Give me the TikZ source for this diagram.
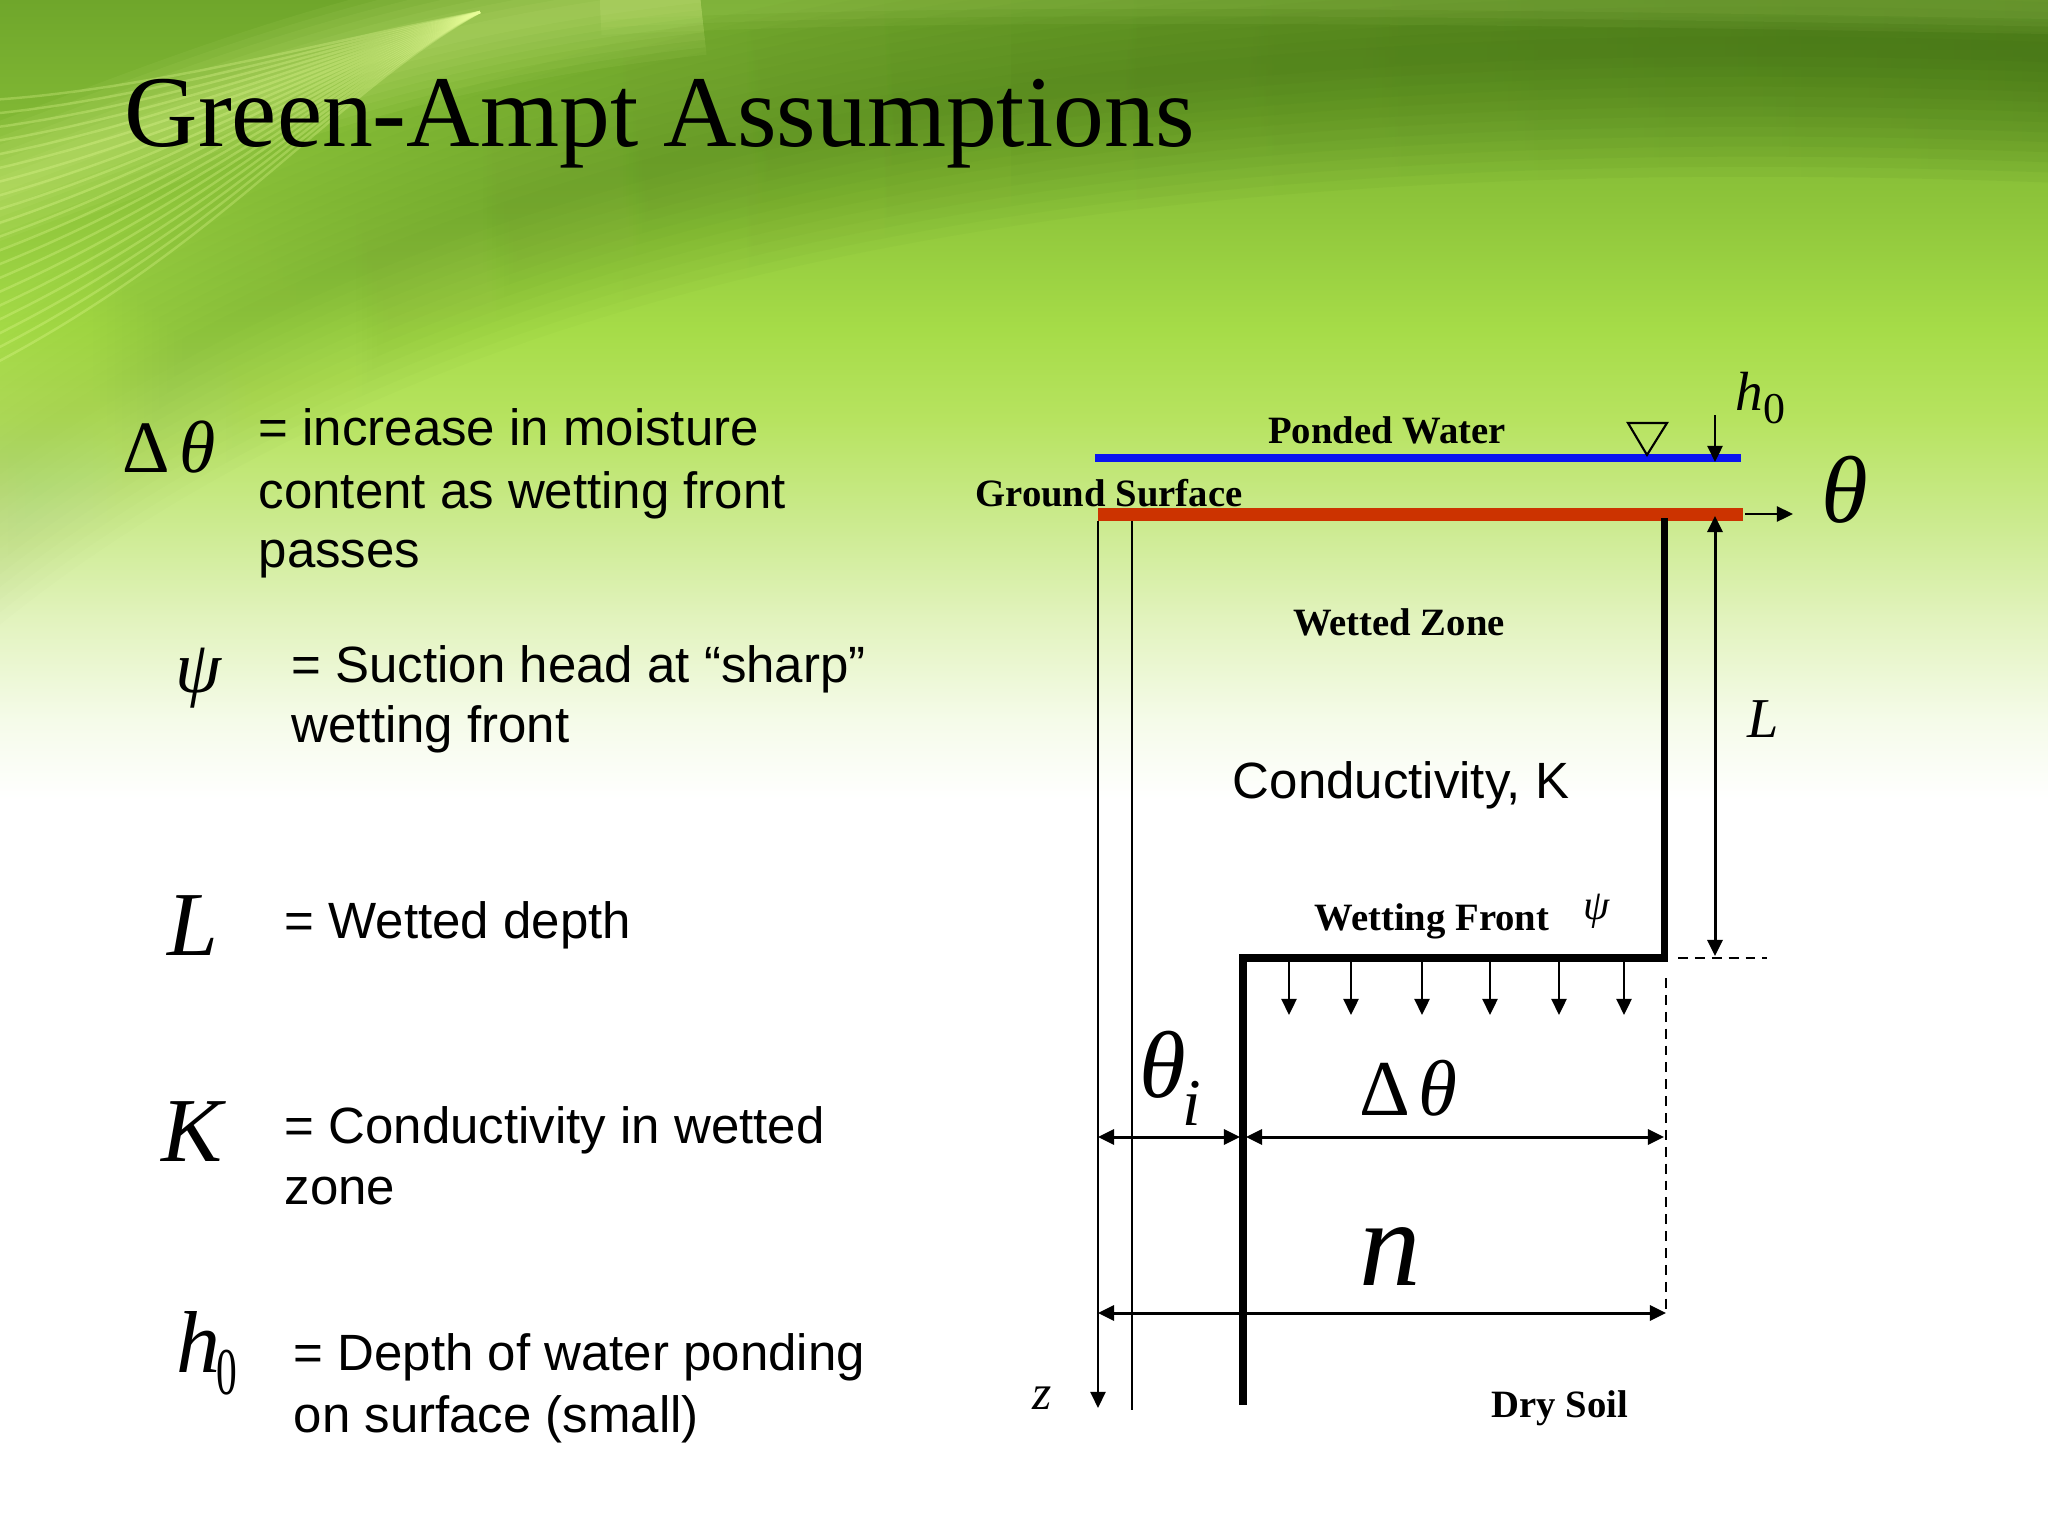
\documentclass[tikz,border=0pt]{standalone}
\usepackage{fontspec}
\setmainfont{Liberation Serif}
\setsansfont{Liberation Sans}
\usetikzlibrary{arrows.meta,fadings}
\definecolor{bg0}{HTML}{6FA62B}
\definecolor{bg1}{HTML}{8DC43A}
\definecolor{bg2}{HTML}{A6DC48}
\definecolor{bg3}{HTML}{B7E360}
\definecolor{bg4}{HTML}{CDEB92}
\definecolor{bg5}{HTML}{E2F3BE}
\definecolor{bg6}{HTML}{F5FBE9}
\definecolor{darkg}{HTML}{34600E}
\definecolor{glow}{HTML}{EAFF9A}
\definecolor{soilred}{HTML}{CC3300}
\definecolor{pondblue}{HTML}{0A14F0}
\pgfdeclareverticalshading{bgshade}{100bp}{color(0bp)=(white); color(25bp)=(white); color(30bp)=(bg6); color(36.25bp)=(bg5); color(41.9bp)=(bg4); color(48.75bp)=(bg3); color(54.4bp)=(bg2); color(62.5bp)=(bg1); color(75bp)=(bg0); color(100bp)=(bg0)}
\tikzset{
  ttl/.style={font=\fontsize{28.9}{34}\selectfont, anchor=base west, inner sep=0},
  arl/.style={font=\sffamily\fontsize{14.5}{17}\selectfont, anchor=base west, inner sep=0},
  lbl/.style={font=\bfseries\fontsize{11}{13}\selectfont, anchor=base, inner sep=0},
  sym/.style={inner sep=0, anchor=base},
  thinln/.style={line width=0.6pt, black},
  thickln/.style={line width=2pt, black},
  arr/.style={line width=0.7pt, -{Triangle[length=4.6pt,width=4.3pt]}},
  dbl/.style={line width=0.85pt, {Triangle[length=4.6pt,width=4.3pt]}-{Triangle[length=4.6pt,width=4.3pt]}},
  dsh/.style={line width=0.6pt, dash pattern=on 2.8pt off 2pt},
}
\begin{document}
\begin{tikzpicture}[x=0.01cm,y=-0.01cm]
\useasboundingbox (0,0) rectangle (2048,1536);
% background
\fill[white] (0,0) rectangle (2048,1536);
\shade[shading=bgshade] (0,0) rectangle (2048,800);
\begin{scope}
\clip (0,0) rectangle (2048,800);
% dark swoosh, fading out to the left
\foreach \w in {260,240,...,20}{
  \draw[darkg, line width=\w*0.2845pt, opacity=0.075, path fading=west]
    (-100,540) .. controls (450,80) and (1300,20) .. (2120,55);
}
% bright glow
\foreach \w in {120,105,...,15}{
  \draw[glow, line width=\w*0.2845pt, opacity=0.06]
    (-40,200) .. controls (200,110) and (380,30) .. (700,-5);
}
\foreach \w in {60,45,30}{
  \draw[glow, line width=\w*0.2845pt, opacity=0.05]
    (600,5) .. controls (900,-10) and (1300,-10) .. (2100,5);
}
% light streaks
\foreach \d in {0,1,...,19}{
  \draw[glow, line width=0.7pt, opacity=0.28]
    (-10,{100+\d*14}) .. controls ({150+\d*4},{90+\d*8}) and ({330},{40+\d*3}) .. (480,12);
}
\end{scope}
% title
\node[ttl] (title) at (124,146) {Green-Ampt Assumptions};
% left column
\node[sym, anchor=base west, font=\fontsize{21}{24}\selectfont] (sDth) at (122,472) {Δ\hspace{0.12em}\textit{θ}};
\node[arl] (d1a) at (258,445) {= increase in moisture};
\node[arl] (d1b) at (258,508) {content as wetting front};
\node[arl] (d1c) at (258,567) {passes};
\node[sym, font=\fontsize{21}{24}\selectfont] (sPsi) at (199,692) {\textit{ψ}};
\node[arl] (s1a) at (291,682) {= Suction head at “sharp”};
\node[arl] (s1b) at (291,742) {wetting front};
\node[sym, font=\fontsize{26}{30}\selectfont] (sL) at (193,955) {\textit{L}};
\node[arl] (l1) at (284,938) {= Wetted depth};
\node[sym, font=\fontsize{26}{30}\selectfont] (sK) at (194,1161) {\textit{K}};
\node[arl] (k1a) at (284,1143) {= Conductivity in wetted};
\node[arl] (k1b) at (284,1204) {zone};
\node[sym, anchor=base west, font=\fontsize{25}{30}\selectfont] (sH) at (176,1372) {\textit{h}\hspace{-0.05em}\raisebox{-0.26em}{\scalebox{0.62}[1]{\fontsize{19}{20}\selectfont 0}}};
\node[arl] (h1a) at (293,1370) {= Depth of water ponding};
\node[arl] (h1b) at (293,1432) {on surface (small)};
% diagram coordinates
\coordinate (bwL) at (1095,458); \coordinate (bwR) at (1741,458);
\coordinate (rdL) at (1098,514.5); \coordinate (rdR) at (1743,514.5);
\coordinate (thA) at (1745,514); \coordinate (thB) at (1793,514);
\coordinate (hA) at (1715,415); \coordinate (hB) at (1715,462);
\coordinate (LA) at (1715,516); \coordinate (LB) at (1715,956);
\coordinate (zA) at (1098,521); \coordinate (zB) at (1098,1408);
\coordinate (vA) at (1132,521); \coordinate (vB) at (1132,1410);
\coordinate (f1) at (1664,518); \coordinate (f2) at (1664,958);
\coordinate (f3) at (1243,958); \coordinate (f4) at (1243,1405);
\coordinate (t1) at (1628,423); \coordinate (t2) at (1667,423); \coordinate (t3) at (1647,455);
% lines
\draw[pondblue, line width=2.3pt] (bwL) -- (bwR);
\draw[soilred, line width=3.7pt] (rdL) -- (rdR);
\draw[arr] (thA) -- (thB);
\draw[arr] (hA) -- (hB);
\draw[dbl] (LA) -- (LB);
\draw[thinln, line width=0.6pt] (t1) -- (t2) -- (t3) -- cycle;
\draw[arr, line width=0.6pt] (zA) -- (zB);
\draw[thinln] (vA) -- (vB);
\draw[thickln, line join=miter] (f1) -- (f2) -- (f3) -- (f4);
\draw[dsh] (1678,958) coordinate (dh1) -- (1767,958) coordinate (dh2);
\draw[dsh] (1666,978) coordinate (dv1) -- (1666,1312) coordinate (dv2);
\foreach \x [count=\i] in {1289,1351,1422,1490,1559,1624}{
  \draw[arr] (\x,962) coordinate (wa\i) -- (\x,1015) coordinate (wb\i);
}
\draw[dbl] (1098,1137) coordinate (ti1) -- (1240,1137) coordinate (ti2);
\draw[dbl] (1246,1137) coordinate (dt1) -- (1664,1137) coordinate (dt2);
\draw[dbl] (1098,1313) coordinate (n1) -- (1666,1313) coordinate (n2);
% diagram labels
\node[lbl] (pw) at (1387,443) {Ponded Water};
\node[lbl] (gs) at (1109,506) {Ground Surface};
\node[lbl] (wz) at (1399,635) {Wetted Zone};
\node[lbl] (wf) at (1432,930) {Wetting Front};
\node[lbl] (ds) at (1560,1417) {Dry Soil};
\node[arl, anchor=base] (cond) at (1401,798) {Conductivity, K};
\node[sym, font=\fontsize{27}{30}\selectfont] (theta) at (1845,522) {\textit{θ}};
\node[sym, anchor=base west, font=\fontsize{15.7}{18}\selectfont] (h0) at (1735,410) {\textit{h}\raisebox{-0.24em}{\fontsize{12.5}{14}\selectfont 0}};
\node[sym, font=\fontsize{16}{18}\selectfont] (Lr) at (1763,737) {\textit{L}};
\node[sym, font=\fontsize{12}{14}\selectfont] (psir) at (1597,919) {\textit{ψ}};
\node[sym, anchor=base west, font=\fontsize{27}{30}\selectfont] (thi) at (1139,1097) {\textit{θ}\hspace{-0.04em}\raisebox{-0.3em}{\fontsize{19}{20}\selectfont\textit{i}}};
\node[sym, anchor=base west, font=\fontsize{22.5}{26}\selectfont] (dth) at (1359,1115) {Δ\hspace{0.1em}\textit{θ}};
\node[sym, font=\fontsize{35}{40}\selectfont] (nn) at (1390,1285) {\textit{n}};
\node[sym, font=\fontsize{14}{16}\selectfont] (zz) at (1042,1409) {\textit{z}};
\end{tikzpicture}
\end{document}
